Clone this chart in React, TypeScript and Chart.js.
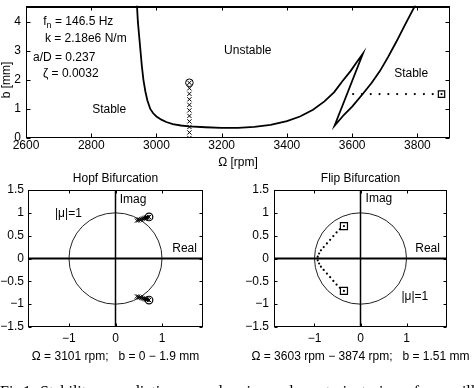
import React, { useEffect, useRef } from 'react';
import { Chart, registerables } from 'chart.js';

Chart.register(...registerables);

const FONT = "'Liberation Sans', Arial, Helvetica, sans-serif";

// ---------------- Top plot: stability lobe ----------------
const rpmMin = 2600;
const rpmMax = 3900;
const rpmStep = 200;
const bMin = 0;
const bMax = 4.55;
const bStep = 1;

const lobeRpm = [2940, 2943, 2947, 2951, 2955, 2960, 2966, 2972, 2981, 2990, 3000, 3015, 3030, 3050, 3075, 3100, 3150, 3200, 3250, 3300, 3350, 3400, 3440, 3480, 3515, 3545, 3570, 3595, 3615, 3633, 3600, 3572, 3555, 3546, 3556, 3575, 3600, 3633, 3660, 3685, 3710, 3735, 3760, 3795];
const lobeB = [4.6, 4.0, 3.5, 3.0, 2.5, 2.0, 1.6, 1.3, 1.0, 0.85, 0.74, 0.63, 0.55, 0.48, 0.43, 0.4, 0.37, 0.35, 0.35, 0.38, 0.45, 0.58, 0.74, 0.97, 1.26, 1.58, 1.95, 2.3, 2.62, 2.9, 1.96, 1.16, 0.68, 0.42, 0.55, 0.8, 1.08, 1.52, 1.9, 2.3, 2.78, 3.3, 3.85, 4.6];

const hopfRpm = 3101;
const hopfB = [0, 0.19, 0.38, 0.57, 0.76, 0.95, 1.14, 1.33, 1.52, 1.71, 1.9];
const hopfEndB = 1.9;

const flipRpm = [3603, 3630, 3657, 3684, 3711, 3738, 3765, 3792, 3820, 3847, 3874];
const flipEndRpm = 3874;
const flipB = 1.51;

const topNotes = [
  { x: 2653, y: 4.0, parts: [{ t: 'f' }, { t: 'n', size: 9, dy: 4 }, { t: ' = 146.5 Hz' }] },
  { x: 2658, y: 3.43, parts: [{ t: 'k = 2.18e6 N/m' }] },
  { x: 2621.5, y: 2.77, parts: [{ t: 'a/D = 0.237' }] },
  { x: 2652, y: 2.2, parts: [{ t: 'ζ = 0.0032' }] },
  { x: 2855, y: 0.99, parts: [{ t: 'Stable' }], center: true },
  { x: 3280, y: 3.01, parts: [{ t: 'Unstable' }], center: true },
  { x: 3781, y: 2.22, parts: [{ t: 'Stable' }], center: true },
];

// ---------------- Bottom plots: eigenvalues ----------------
const reMin = -1.88;
const reMax = 1.88;
const reStep = 1;
const imMin = -1.5;
const imMax = 1.5;
const imStep = 0.5;

const hopfEigRe = [0.46, 0.49, 0.52, 0.55, 0.58, 0.61, 0.63, 0.65, 0.67, 0.69, 0.72];
const hopfEigIm = [0.83, 0.84, 0.85, 0.86, 0.87, 0.88, 0.88, 0.89, 0.9, 0.9, 0.91];
const hopfEndRe = 0.72;
const hopfEndIm = 0.91;

const flipEigRe = [-0.93, -0.9, -0.86, -0.8, -0.73, -0.66, -0.59, -0.52, -0.45, -0.36];
const flipEigIm = [0.04, 0.11, 0.18, 0.25, 0.33, 0.41, 0.49, 0.57, 0.64, 0.71];
const flipEndRe = -0.36;
const flipEndIm = 0.71;

const hopfNotes = [
  { x: 0.09, y: 1.28, parts: [{ t: 'Imag' }] },
  { x: 1.22, y: 0.21, parts: [{ t: 'Real' }] },
  { x: -1.3, y: 0.99, parts: [{ t: '|μ|=1' }] },
];
const flipNotes = [
  { x: 0.11, y: 1.3, parts: [{ t: 'Imag' }] },
  { x: 1.19, y: 0.21, parts: [{ t: 'Real' }] },
  { x: 0.89, y: -0.83, parts: [{ t: '|μ|=1' }] },
];

const fmt = (v: any) => {
  const n = Number(v);
  return n < 0 ? '\u2212' + String(-n) : String(n);
};

const tickFont = { family: FONT, size: 12 };

const noPad = (s: any) => {
  s.paddingTop = 0; s.paddingBottom = 0; s.paddingLeft = 0; s.paddingRight = 0;
};

function axes(xMin: number, xMax: number, xStep: number, yMin: number, yMax: number, yStep: number,
  yWidth: number, xHeight: number, xPad: number, yPad: number) {
  return {
    x: {
      type: 'linear', min: xMin, max: xMax,
      afterFit: (s: any) => { s.height = xHeight; noPad(s); },
      grid: { display: false, drawTicks: false }, border: { display: false },
      ticks: { stepSize: xStep, includeBounds: false, padding: xPad, font: tickFont, color: '#000', maxRotation: 0, minRotation: 0, autoSkip: false, callback: fmt },
    },
    y: {
      type: 'linear', min: yMin, max: yMax,
      afterFit: (s: any) => { s.width = yWidth; noPad(s); },
      grid: { display: false, drawTicks: false }, border: { display: false },
      ticks: { stepSize: yStep, includeBounds: false, padding: yPad, font: tickFont, color: '#000', autoSkip: false, callback: fmt },
    },
  };
}

type Txt = { text: string; x: (a: any) => number; y: (a: any) => number; rot?: number };

function decor(cfg: { tickLen: number; topWidth?: number; circle?: boolean; notes: any[]; texts: Txt[] }) {
  return {
    id: 'decor',
    beforeDatasetsDraw(chart: any) {
      if (!cfg.circle) return;
      const { ctx, scales } = chart;
      const xs = scales.x, ys = scales.y;
      const cx = xs.getPixelForValue(0), cy = ys.getPixelForValue(0);
      const rx = xs.getPixelForValue(1) - cx, ry = cy - ys.getPixelForValue(1);
      ctx.save();
      ctx.beginPath();
      ctx.ellipse(cx, cy, rx, ry, 0, 0, Math.PI * 2);
      ctx.lineWidth = 1;
      ctx.strokeStyle = '#222';
      ctx.stroke();
      ctx.restore();
    },
    afterDraw(chart: any) {
      const { ctx, chartArea: a, scales } = chart;
      const xs = scales.x, ys = scales.y;
      ctx.save();
      ctx.strokeStyle = '#000';
      ctx.lineWidth = 1;
      const L = Math.round(a.left) + 0.5, R = Math.round(a.right) - 0.5;
      const T = Math.round(a.top) + 0.5, B = Math.round(a.bottom) - 0.5;
      ctx.strokeRect(L, T, R - L, B - T);
      if (cfg.topWidth) {
        ctx.save();
        ctx.lineWidth = cfg.topWidth;
        ctx.beginPath();
        ctx.moveTo(L, Math.round(a.top) + cfg.topWidth / 2);
        ctx.lineTo(R, Math.round(a.top) + cfg.topWidth / 2);
        ctx.stroke();
        ctx.restore();
      }
      ctx.beginPath();
      xs.ticks.forEach((t: any) => {
        const p = Math.round(xs.getPixelForValue(t.value)) + 0.5;
        ctx.moveTo(p, B); ctx.lineTo(p, B - cfg.tickLen);
        ctx.moveTo(p, T); ctx.lineTo(p, T + cfg.tickLen);
      });
      ys.ticks.forEach((t: any) => {
        const p = Math.round(ys.getPixelForValue(t.value)) + 0.5;
        ctx.moveTo(L, p); ctx.lineTo(L + cfg.tickLen, p);
        ctx.moveTo(R, p); ctx.lineTo(R - cfg.tickLen, p);
      });
      ctx.stroke();

      ctx.fillStyle = '#000';
      ctx.textBaseline = 'middle';
      ctx.textAlign = 'left';
      cfg.notes.forEach((n: any) => {
        const px = xs.getPixelForValue(n.x), py = ys.getPixelForValue(n.y);
        let w = 0;
        n.parts.forEach((p: any) => { ctx.font = `${p.size || 12}px ${FONT}`; w += ctx.measureText(p.t).width; });
        let cur = n.center ? px - w / 2 : px;
        n.parts.forEach((p: any) => {
          ctx.font = `${p.size || 12}px ${FONT}`;
          ctx.fillText(p.t, cur, py + (p.dy || 0));
          cur += ctx.measureText(p.t).width;
        });
      });
      ctx.font = `12px ${FONT}`;
      ctx.textAlign = 'center';
      cfg.texts.forEach((t) => {
        ctx.save();
        ctx.translate(t.x(a), t.y(a));
        if (t.rot) ctx.rotate(t.rot);
        ctx.fillText(t.text, 0, 0);
        ctx.restore();
      });
      ctx.restore();
    },
  };
}

const baseOpts = (padding: any, scales: any) => ({
  responsive: false,
  animation: false,
  events: [],
  layout: { padding },
  plugins: { legend: { display: false }, tooltip: { enabled: false }, title: { display: false } },
  scales,
});

export default function App() {
  const topRef = useRef<HTMLCanvasElement>(null);
  const hopfRef = useRef<HTMLCanvasElement>(null);
  const flipRef = useRef<HTMLCanvasElement>(null);

  useEffect(() => {
    document.body.style.margin = '0';
    const charts: Chart[] = [];

    const top = new Chart(topRef.current as HTMLCanvasElement, {
      type: 'scatter',
      data: {
        datasets: [
          {
            data: lobeRpm.map((r, i) => ({ x: r, y: lobeB[i] })),
            showLine: true, borderColor: '#000', borderWidth: 1.8, pointRadius: 0, tension: 0,
          },
          {
            data: hopfB.map((b) => ({ x: hopfRpm, y: b })),
            pointStyle: 'crossRot', pointRadius: 3, pointBorderWidth: 1, borderColor: '#000', backgroundColor: '#000',
          },
          {
            data: [{ x: hopfRpm, y: hopfEndB }],
            pointStyle: 'circle', pointRadius: 3.8, pointBorderWidth: 1, borderColor: '#000', backgroundColor: 'rgba(0,0,0,0)',
          },
          {
            data: flipRpm.map((r) => ({ x: r, y: flipB })),
            pointStyle: 'circle', pointRadius: 1.1, pointBorderWidth: 0, borderColor: '#000', backgroundColor: '#000',
          },
          {
            data: [{ x: flipEndRpm, y: flipB }],
            pointStyle: 'rect', pointRadius: 4.5, pointBorderWidth: 1.2, borderColor: '#000', backgroundColor: 'rgba(0,0,0,0)',
          },
        ],
      } as any,
      options: baseOpts({ left: 0, right: 24, top: 1, bottom: 0 },
        axes(rpmMin, rpmMax, rpmStep, bMin, bMax, bStep, 26, 34, 0, 5)) as any,
      plugins: [decor({
        tickLen: 4, topWidth: 2, notes: topNotes,
        texts: [
          { text: 'Ω [rpm]', x: (a) => (a.left + a.right) / 2, y: () => 163 },
          { text: 'b [mm]', x: () => 7, y: () => 80, rot: -Math.PI / 2 },
        ],
      }) as any],
    });
    charts.push(top);

    const eigChart = (canvas: HTMLCanvasElement, pad: any, yWidth: number, yPad: number, datasets: any[],
      notes: any[], title: string, caption: string) => new Chart(canvas, {
      type: 'scatter',
      data: {
        datasets: [
          {
            data: [{ x: reMin, y: 0 }, { x: reMax, y: 0 }],
            showLine: true, borderColor: '#000', borderWidth: 2, pointRadius: 0,
          },
          {
            data: [{ x: 0, y: imMin }, { x: 0, y: imMax }],
            showLine: true, borderColor: '#000', borderWidth: 1.5, pointRadius: 0,
          },
          ...datasets,
        ],
      } as any,
      options: baseOpts(pad, axes(reMin, reMax, reStep, imMin, imMax, imStep, yWidth, 38, 4, yPad)) as any,
      plugins: [decor({
        tickLen: 3, circle: true, notes,
        texts: [
          { text: title, x: (a) => (a.left + a.right) / 2, y: () => 14 },
          { text: caption, x: (a) => (a.left + a.right) / 2, y: () => 191.7 },
        ],
      }) as any],
    });

    const hopf = eigChart(hopfRef.current as HTMLCanvasElement, { left: 0, right: 34, top: 25, bottom: 0 }, 28, 4, [
      {
        data: hopfEigRe.map((r, i) => ({ x: r, y: hopfEigIm[i] })),
        pointStyle: 'crossRot', pointRadius: 3, pointBorderWidth: 1, borderColor: '#000',
      },
      {
        data: hopfEigRe.map((r, i) => ({ x: r, y: -hopfEigIm[i] })),
        pointStyle: 'crossRot', pointRadius: 3, pointBorderWidth: 1, borderColor: '#000',
      },
      {
        data: [{ x: hopfEndRe, y: hopfEndIm }, { x: hopfEndRe, y: -hopfEndIm }],
        pointStyle: 'circle', pointRadius: 3.8, pointBorderWidth: 1.2, borderColor: '#000', backgroundColor: 'rgba(0,0,0,0)',
      },
    ], hopfNotes, 'Hopf Bifurcation', 'Ω = 3101 rpm;   b = 0 − 1.9 mm');
    charts.push(hopf);

    const flip = eigChart(flipRef.current as HTMLCanvasElement, { left: 0, right: 27, top: 25, bottom: 0 }, 37, 5, [
      {
        data: flipEigRe.map((r, i) => ({ x: r, y: flipEigIm[i] })),
        pointStyle: 'circle', pointRadius: 1.1, pointBorderWidth: 0, borderColor: '#000', backgroundColor: '#000',
      },
      {
        data: flipEigRe.map((r, i) => ({ x: r, y: -flipEigIm[i] })),
        pointStyle: 'circle', pointRadius: 1.1, pointBorderWidth: 0, borderColor: '#000', backgroundColor: '#000',
      },
      {
        data: [{ x: flipEndRe, y: flipEndIm }, { x: flipEndRe, y: -flipEndIm }],
        pointStyle: 'rect', pointRadius: 5, pointBorderWidth: 1.2, borderColor: '#000', backgroundColor: 'rgba(0,0,0,0)',
      },
    ], flipNotes, 'Flip Bifurcation', 'Ω = 3603 rpm − 3874 rpm;   b = 1.51 mm');
    charts.push(flip);

    return () => charts.forEach((c) => c.destroy());
  }, []);

  const serif = "'Liberation Serif', 'Times New Roman', serif";
  return (
    <div style={{ position: 'fixed', left: 0, top: 0, width: 474, height: 388, overflow: 'hidden', background: '#fff' }}>
      <canvas ref={topRef} width={474} height={172} style={{ position: 'absolute', left: 0, top: 0, width: 474, height: 172 }} />
      <canvas ref={hopfRef} width={237} height={200} style={{ position: 'absolute', left: 0, top: 165, width: 237, height: 200 }} />
      <canvas ref={flipRef} width={237} height={200} style={{ position: 'absolute', left: 237, top: 165, width: 237, height: 200 }} />
      <div style={{
        position: 'absolute', left: 0, top: 384, width: 520, height: 20, whiteSpace: 'pre',
        fontFamily: serif, fontSize: 16, lineHeight: '16px', color: '#000',
      }}>
        <span style={{ position: 'absolute', left: 0, top: 0 }}>Fig.</span>
        <span style={{ position: 'absolute', left: 23, top: 0 }}>1</span>
        <span style={{ position: 'absolute', left: 40, top: 0, wordSpacing: 13 }}>Stability predictions and eigenvalue trajectories for milling</span>
      </div>
    </div>
  );
}
